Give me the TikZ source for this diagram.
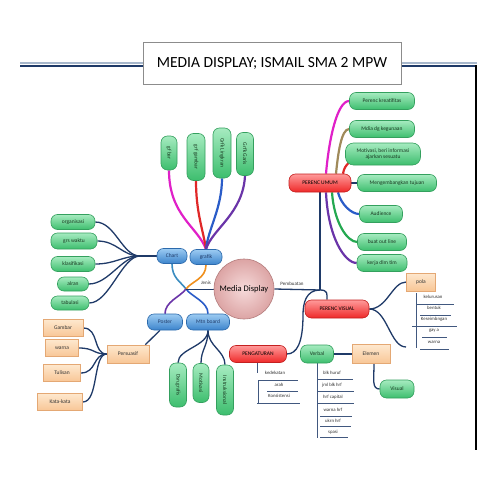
\documentclass[tikz,border=0pt]{standalone}
\usepackage{fontspec}
\setmainfont{Carlito}
\usetikzlibrary{calc,backgrounds}
\definecolor{nv}{HTML}{1F3A68}
\definecolor{hdrl}{HTML}{A8B8CC}
\definecolor{gtop}{HTML}{A6EBC0}
\definecolor{gbot}{HTML}{3DBE6E}
\definecolor{gdr}{HTML}{34A05E}
\definecolor{gtx}{HTML}{1A3A22}
\definecolor{rtop}{HTML}{FF9A9A}
\definecolor{rbot}{HTML}{EE2828}
\definecolor{rdr}{HTML}{C42020}
\definecolor{btop}{HTML}{9CCBF2}
\definecolor{bbot}{HTML}{3C84CC}
\definecolor{bdr}{HTML}{2C6AAC}
\definecolor{otop}{HTML}{FEE8CE}
\definecolor{obot}{HTML}{F8C696}
\definecolor{odr}{HTML}{E4A874}
\definecolor{cin}{HTML}{F6DADA}
\definecolor{cout}{HTML}{DCA4A4}
\definecolor{cdr}{HTML}{B47C7C}
\definecolor{mag}{HTML}{E020C8}
\definecolor{rred}{HTML}{E02828}
\definecolor{rblu}{HTML}{2A5CC8}
\definecolor{rpur}{HTML}{6A34A8}
\definecolor{rolv}{HTML}{A08A5A}
\definecolor{rgrn}{HTML}{24A850}
\definecolor{rorg}{HTML}{F0901E}
\definecolor{rteal}{HTML}{3A8CC0}
\tikzset{
 base/.style={font=\fontsize{5.5}{6.2}\selectfont, inner sep=1pt, align=center, line width=0.6pt},
 gnode/.style={base, rounded corners=6.5pt, draw=gdr, top color=gtop, bottom color=gbot, text=gtx},
 rnode/.style={base, rounded corners=6.5pt, draw=rdr, top color=rtop, bottom color=rbot, text=black},
 bnode/.style={base, rounded corners=6.5pt, draw=bdr, top color=btop, bottom color=bbot, text=nv},
 onode/.style={base, draw=odr, top color=otop, bottom color=obot, text=black!80},
 item/.style={font=\fontsize{4.8}{5.5}\selectfont, inner sep=0.5pt, text=black!80},
 lbl/.style={font=\fontsize{5}{6}\selectfont, inner sep=0.5pt, text=black!80},
 nvl/.style={draw=nv, line width=1.3pt},
 lst/.style={draw=nv!85, line width=0.8pt},
 rib/.style={line width=2.2pt},
 sz/.style 2 args={minimum width=#1pt, minimum height=#2pt},
}
\begin{document}
\begin{tikzpicture}[x=1pt,y=-1pt]
\useasboundingbox (0,0) rectangle (495,495);
% header
\draw[line width=2.5pt, hdrl] (20,63) -- (143,63) (401,63) -- (477,63);
\draw[line width=1.5pt, nv] (20,66) -- (143,66) (401,66) -- (476,66);
\draw[line width=1.3pt, black] (476,65) -- (476,450);
\node[draw=gray!90, line width=1pt, fill=white, minimum width=258pt, minimum height=41pt, font=\fontsize{15.5}{18}\selectfont, inner sep=0pt] (title) at (272,63.5) {MEDIA DISPLAY; ISMAIL SMA 2 MPW};
% right greens
\node[gnode, sz={65}{17}] (pk) at (382,101) {Perenc kreatifitas};
\node[gnode, sz={65}{17}] (mk) at (382,129) {Mdia dg kegunaan};
\node[gnode, sz={75}{22}, rounded corners=8pt] (mo) at (383,154) {Motivasi, beri informasi\\ajarkan sesuatu};
\node[gnode, sz={79}{17}] (mt) at (397,183) {Mengembangkan tujuan};
\node[gnode, sz={43}{17}] (au) at (381,214) {Audience};
\node[gnode, sz={49}{17}] (bo) at (382,242) {buat out line};
\node[gnode, sz={50}{17}] (kt) at (382,263) {kerja dlm tim};
\node[rnode, sz={62}{18}] (pu) at (320,183) {PERENC UMUM};
\node[rnode, sz={64}{18}] (pv) at (337,309) {PERENC VISUAL};
\node[onode, sz={29}{18}] (pola) at (421,282) {pola};
\node[onode, sz={38}{19}] (el) at (371,354) {Elemen};
\node[gnode, sz={33}{18}] (ve) at (317,354) {Verbal};
\node[gnode, sz={34}{18}] (vi) at (397,389) {Visual};
\node[rnode, sz={57}{17}] (pg) at (258,354) {PENGATURAN};
\node[circle, draw=cdr, inner color=cin, outer color=cout, minimum size=60pt, font=\fontsize{8.5}{10}\selectfont, inner sep=0pt, line width=0.6pt] (md) at (244,289) {Media Display};
% blue
\node[bnode, sz={30}{15}] (ch) at (172,256) {Chart};
\node[bnode, sz={32}{15}] (gr) at (206,257) {grafik};
\node[bnode, sz={35}{16}] (pos) at (165,322) {Poster};
\node[bnode, sz={43}{16}] (mb) at (208,322) {Mtn board};
% left greens
\node[gnode, sz={44}{15}] (org) at (73,222) {organisasi};
\node[gnode, sz={46}{16}] (gw) at (74,241) {grs waktu};
\node[gnode, sz={44}{15}] (kl) at (73,264) {klasifikasi};
\node[gnode, sz={31}{14}] (al) at (73,284) {alran};
\node[gnode, sz={38}{14}] (tb) at (70,303) {tabulasi};
% orange left
\node[onode, sz={40}{17}] (gam) at (63,328) {Gambar};
\node[onode, sz={33}{17}] (wa) at (62,348) {warna};
\node[onode, sz={37}{17}] (tu) at (62,373) {Tulisan};
\node[onode, sz={45}{17}] (kk) at (60,402) {Kata-kata};
\node[onode, sz={42}{18}] (per) at (128,354) {Persuasif};
% vertical greens
\node[gnode, rotate=-90, sz={34}{16}] (gfb) at (169,153) {gf bar};
\node[gnode, rotate=-90, sz={47}{18}] (ggm) at (196,157) {grf gambar};
\node[gnode, rotate=-90, sz={50}{18}] (gli) at (222,153) {Grfk Lingkran};
\node[gnode, rotate=-90, sz={43}{17}] (gga) at (245,154) {Grfk Garis};
\node[gnode, rotate=-90, sz={44}{17}] (dsn) at (178,385) {Dsn.grafis};
\node[gnode, rotate=-90, sz={39}{16}] (mot) at (201,383) {Motivasi};
\node[gnode, rotate=-90, sz={50}{17}] (ins) at (225,390) {Instruksional};
% labels
\node[lbl] (jen) at (206,283) {Jenis};
\node[lbl] (pem) at (292,284) {Pembuatan};
% lists
\node[item] (i1) at (433,297) {kelurusan};
\node[item] (i2) at (434,308) {bentuk};
\node[item] (i3) at (434,319) {Keseimbngan};
\node[item] (i4) at (434,331) {gay a};
\node[item] (i5) at (434,342) {warna};
\node[item] (v1) at (332,373) {blk huruf};
\node[item] (v2) at (332,385) {jml blk hrf};
\node[item] (v3) at (333,397) {hrf capital};
\node[item] (v4) at (333,410) {warna hrf};
\node[item] (v5) at (333,421) {ukrn hrf};
\node[item] (v6) at (333,432) {spasi};
\node[item] (p1) at (275,373) {kedekatan};
\node[item] (p2) at (279,385) {arah};
\node[item] (p3) at (279,396) {Konsistensi};
\coordinate (X) at (186,289);
\coordinate (J) at (320,290);
\coordinate (bend) at (303,315);
\coordinate (pvend) at (406,347);
\coordinate (cv) at (140,256);
\begin{scope}[on background layer]
\fill[white] (0,0) rectangle (495,495);
% list lines
\draw[lst] (416,293) -- (416,348);
\draw[lst] (416,304) -- (454,304) (420,315) -- (451,315) (412,326) -- (457,326) (422,337) -- (447,337) (420,349) -- (449,349);
\draw[lst] (ve.south) -- (317,438);
\draw[lst] (317,379) -- (353,379) (317,391) -- (354,391) (317,403) -- (354,403) (320,416) -- (352,416) (320,426) -- (351,426) (320,437) -- (348,437);
\draw[lst] ($(pg.south)+(-1,0)$) -- (257,373);
\draw[lst] (258,380) -- (298,380) (258,380) -- (258,403) (267,391) -- (298,391) (257,403) -- (300,403);
% left fans
\draw[nvl] (ch.west) -- (cv);
\foreach \t in {org,gw,kl,al,tb} \draw[nvl] (cv) .. controls +(-18,0) and +(20,0) .. (\t.east);
\foreach \t in {gam,wa,tu,kk} \draw[nvl] (per.west) .. controls +(-14,0) and +(16,0) .. (\t.east);
\draw[nvl] ($(per.north east)+(-4,0)$) -- ($(pos.south)+(-5,0)$);
\foreach \t in {dsn,mot,ins} \draw[nvl] (mb.south) .. controls +(0,16) and +(0,-14) .. (\t.west);
% top fan
\draw[rib, mag] (gfb.east) .. controls +(0,45) and +(-8,-22) .. (gr.north);
\draw[rib, rred] (ggm.east) .. controls +(0,32) and +(-3,-20) .. (gr.north);
\draw[rib, rblu] (gli.east) .. controls +(0,30) and +(2,-20) .. (gr.north);
\draw[rib, rpur] (gga.east) .. controls +(-2,38) and +(6,-20) .. (gr.north);
% crossing
\draw[line width=1.6pt, rteal] (ch.south) .. controls +(0,14) and +(-6,-8) .. (X);
\draw[line width=1.6pt, rblu] (X) .. controls +(6,8) and +(0,-12) .. (mb.north);
\draw[line width=1.6pt, rorg] (gr.south) .. controls +(0,14) and +(6,-8) .. (X);
\draw[line width=1.6pt, rpur] (X) .. controls +(-6,8) and +(0,-12) .. (pos.north);
\draw[nv, line width=1pt] (X) -- (md.west);
% right side
\draw[nvl] (md.east) -- (J);
\draw[nvl] (pu.south) -- (J);
\draw[nvl] (J) .. controls +(8,0) and +(0,-6) .. ($(pv.north)+(-10,0)$);
\draw[nvl] (J) .. controls +(-14,0) and +(0,-12) .. (bend) .. controls +(0,28) and +(10,0) .. (pg.east);
\draw[rib, mag] ($(pu.north)+(6,0)$) .. controls +(3,-35) and +(-12,0) .. (pk.west);
\draw[rib, rolv] ($(pu.north)+(16,0)$) .. controls +(2,-20) and +(-8,0) .. (mk.west);
\draw[rib, rred] ($(pu.north)+(23,0)$) .. controls +(1,-6) and +(-3,3) .. ($(mo.south west)+(4,-3)$);
\draw[nvl] (pu.east) -- (mt.west);
\draw[rib, rblu] ($(pu.south)+(18,0)$) .. controls +(3,12) and +(-8,0) .. (au.west);
\draw[rib, rgrn] ($(pu.south)+(12,0)$) .. controls +(2,30) and +(-10,0) .. (bo.west);
\draw[rib, rpur] ($(pu.south)+(6,0)$) .. controls +(2,45) and +(-12,0) .. (kt.west);
\draw[nvl] (pv.east) .. controls +(18,0) and +(-14,0) .. (pola.west);
\draw[nvl] (pv.east) .. controls +(18,0) and +(-16,0) .. (pvend);
\draw[nvl] (ve.east) -- (el.west);
\draw[nvl] ($(el.south)+(3,0)$) .. controls +(0,16) and +(-8,0) .. (vi.west);
\end{scope}
\end{tikzpicture}
\end{document}
